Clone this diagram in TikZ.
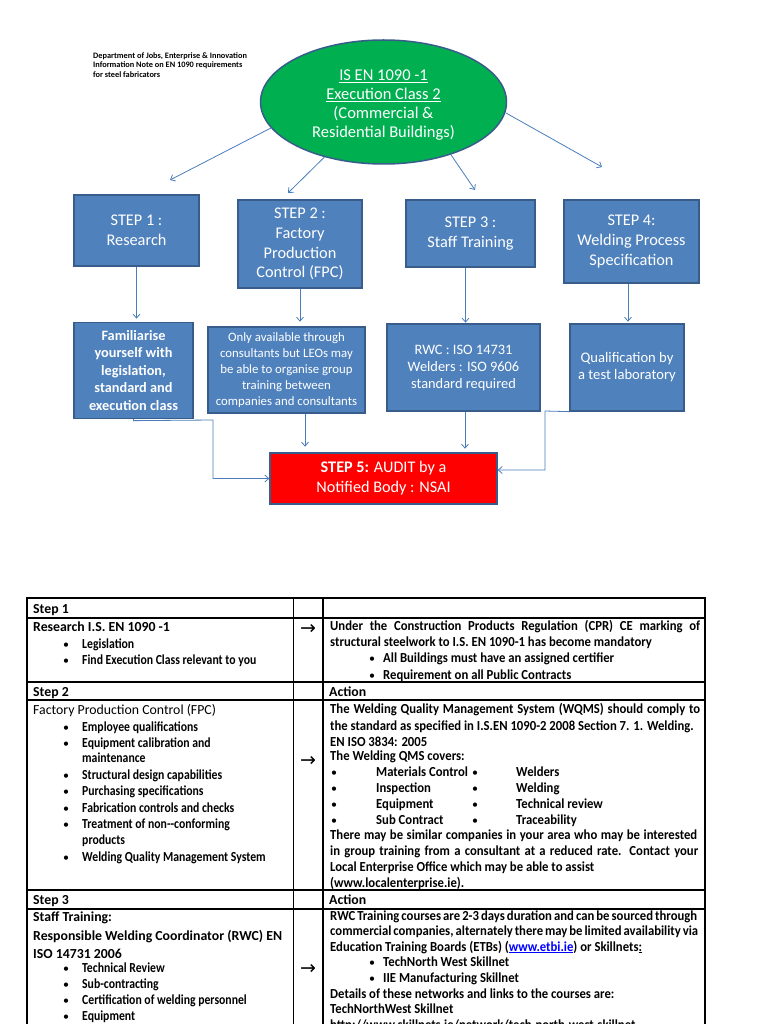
\documentclass[tikz,border=0pt]{standalone}
\usepackage{fontspec}
\setmainfont{Carlito}
\newfontfamily\condf[FakeStretch=0.85]{Carlito}
\newfontfamily\midf[FakeStretch=0.92]{Carlito}
\newfontfamily\arrowfont{DejaVu Sans}
\usetikzlibrary{arrows.meta,shapes.geometric,calc}
\definecolor{bfill}{HTML}{4F81BD}
\definecolor{bline}{HTML}{385D8A}
\definecolor{gfill}{HTML}{00B050}
\definecolor{cline}{HTML}{4A7EBB}
\definecolor{redfill}{HTML}{FF0000}
\definecolor{linkblue}{HTML}{0000FF}
\tikzset{
  stepbox/.style={draw=bline, line width=1.3pt, fill=bfill, text=white, align=center, inner sep=2pt, font=\fontsize{16.3}{19.7}\selectfont},
  infobox/.style={draw=bline, line width=1.3pt, fill=bfill, text=white, align=center, inner sep=2pt},
  conn/.style={draw=cline, line width=0.8pt, -{Straight Barb[length=4pt,width=7pt]}},
  tt/.style={anchor=base west, inner sep=0pt, font=\fontsize{13.8}{15}\selectfont},
  tc/.style={tt, font=\fontsize{13.8}{15}\condf\bfseries},
  tm/.style={tt, font=\fontsize{13.8}{15}\midf\bfseries},
  bul/.style={anchor=base west, inner sep=0pt, font=\fontsize{12}{15}\selectfont},
  tab/.style={line width=1.2pt, draw=black},
  arr/.style={anchor=base west, inner sep=0pt, font=\fontsize{19}{19}\arrowfont},
}
\begin{document}
\begin{tikzpicture}[x=1pt,y=-1pt]
\useasboundingbox[fill=white] (0,0) rectangle (768,1024);

% header note
\node[anchor=north west, align=left, inner sep=0pt, font=\fontsize{8.3}{9.8}\selectfont\bfseries] (hdr) at (93,52)
  {Department of Jobs, Enterprise \& Innovation\\Information Note on EN 1090 requirements\\for steel fabricators};

% ellipse
\node[ellipse, draw=bline, line width=1.5pt, fill=gfill, minimum width=246pt, minimum height=124pt, inner sep=0pt] (ell) at (383.5,102) {};
\node[text=white, align=center, font=\fontsize{16.5}{19}\selectfont, inner sep=0pt] (ellt) at (383.5,105.5)
  {\underline{IS EN 1090 -1}\\\underline{Execution Class 2}\\(Commercial \&\\Residential Buildings)};

% steps
\node[stepbox, minimum width=125pt, minimum height=71pt] (s1) at (136.5,230.5) {STEP 1 :\\Research};
\node[stepbox, minimum width=124pt, minimum height=88pt] (s2) at (300,244) {STEP 2 :\\Factory\\Production\\Control (FPC)};
\node[stepbox, minimum width=129pt, minimum height=67pt] (s3) at (470.5,233.5) {STEP 3 :\\Staff Training};
\node[stepbox, minimum width=135pt, minimum height=83pt] (s4) at (631.5,241.5) {STEP 4:\\Welding Process\\Specification};

% info boxes
\node[infobox, minimum width=119pt, minimum height=96pt, font=\fontsize{14.3}{17.5}\selectfont\bfseries] (b1) at (133.5,370.5)
  {Familiarise\\yourself with\\legislation,\\standard and\\execution class};
\node[infobox, minimum width=157pt, minimum height=86pt, font=\fontsize{12.8}{16.2}\selectfont] (b2) at (286.5,370)
  {Only available through\\consultants but LEOs may\\be able to organise group\\training between\\companies and consultants};
\node[infobox, minimum width=153pt, minimum height=87pt, font=\fontsize{14.4}{17}\selectfont] (b3) at (463.5,367.5)
  {RWC : ISO 14731\\Welders : ISO 9606\\standard required};
\node[infobox, minimum width=114pt, minimum height=87pt, font=\fontsize{14.6}{17}\selectfont] (b4) at (627,367.5)
  {Qualification by\\a test laboratory};

% step 5
\node[draw=bline, line width=1.3pt, fill=redfill, text=white, align=center, minimum width=227pt, minimum height=51pt,
  font=\fontsize{16.2}{20}\selectfont] (s5) at (383.5,478.5) {\textbf{STEP 5:} AUDIT by a\\Notified Body : NSAI};

% connectors from ellipse
\coordinate (e1) at (170,180);
\coordinate (e2) at (288,193);
\coordinate (e3) at (475,190);
\coordinate (e4) at (602,167);
\draw[conn] (ell.193) -- (e1);
\draw[conn] (ell.223) -- (e2);
\draw[conn] (ell.322) -- (e3);
\draw[conn] (ell.355) -- (e4);

% step to info
\draw[conn] (s1.south) -- ++(0,52);
\draw[conn] (s2.south) -- ++(0,33);
\draw[conn] ($(s3.south)+(-5,0)$) -- ++(0,55);
\draw[conn] ($(s4.south)+(-3.5,0)$) -- ++(0,38);

% info to step 5
\draw[conn] (b1.south) -- ++(0,1.5) -- (213,420) |- (s5.west);
\draw[conn] ($(b2.south)+(18.5,0)$) -- ++(0,33);
\draw[conn] ($(b3.south)+(1.5,0)$) -- ++(0,37);
\draw[conn] (b4.south west) -- (545,411) |- ([yshift=8.5pt]s5.east);

% table grid
\draw[tab] (27,1030) -- (27,598) -- (705,598) -- (705,1030);
\draw[tab] (293.5,598) -- (293.5,1030);
\draw[tab] (323,598) -- (323,1030);
\foreach \yy in {618,682,700,890,909} \draw[tab] (27,\yy) -- (705,\yy);

% Row Step 1
\node[tt] (r1a) at (33,613) {\bfseries Step 1};
\node[tt] (r2a) at (33,631) {\bfseries Research I.S. EN 1090 -1};
\node[bul] (r2b1) at (63,648) {•};
\node[tc] (r2b2) at (82,648) {Legislation};
\node[bul] (r2c1) at (63,664) {•};
\node[tc] (r2c2) at (82,664) {Find Execution Class relevant to you};
\node[arr] (ar1) at (300,634) {→};
\node[tm] (r2d) at (330,630) {\makebox[370pt][s]{Under the Construction Products Regulation (CPR) CE marking of}};
\node[tm] (r2e) at (330,646) {structural steelwork to I.S. EN 1090-1 has become mandatory};
\node[bul] (r2f1) at (369,662) {•};
\node[tm] (r2f2) at (383,662) {All Buildings must have an assigned certifier};
\node[bul] (r2g1) at (369,679) {•};
\node[tm] (r2g2) at (383,679) {Requirement on all Public Contracts};

% Row Step 2
\node[tt] (r3a) at (33,696) {\bfseries Step 2};
\node[tt] (r3b) at (329,696) {\bfseries Action};
\node[tt] (r4a) at (33,714) {Factory Production Control (FPC)};
\foreach \yy/\txt [count=\i] in {731/Employee qualifications, 747/Equipment calibration and, 779/Structural design capabilities, 795/Purchasing specifications, 812/Fabrication controls and checks, 828/Treatment of non--conforming, 861/Welding Quality Management System}
  {\node[bul] (r4bul\i) at (63,\yy) {•}; \node[tc] (r4txt\i) at (82,\yy) {\txt};}
\node[tc] (r4m) at (82,762) {maintenance};
\node[tc] (r4p) at (82,844) {products};
\node[arr] (ar2) at (300,766) {→};
\node[tm] (r4c1) at (330,713) {\makebox[370pt][s]{The Welding Quality Management System (WQMS) should comply to}};
\node[tm] (r4c2) at (330,730) {the standard as specified in I.S.EN 1090-2 2008 Section 7. 1. Welding.};
\node[tm] (r4c3) at (330,746) {EN ISO 3834: 2005};
\node[tm] (r4c4) at (330,760) {The Welding QMS covers:};
\foreach \yy/\ta/\tb [count=\i] in {776/Materials Control/Welders, 792/Inspection/Welding, 808/Equipment/Technical review, 824/Sub Contract/Traceability}
  {\node[bul] (r4q\i) at (331,\yy) {•};
   \node[tm] (r4qa\i) at (376,\yy) {\ta};
   \node[bul] (r4qb\i) at (472,\yy) {•};
   \node[tm] (r4qc\i) at (516,\yy) {\tb};}
\node[tm] (r4c5) at (330,839) {\makebox[367pt][s]{There may be similar companies in your area who may be interested}};
\node[tm] (r4c6) at (330,855) {\makebox[368pt][s]{in group training from a consultant at a reduced rate. Contact your}};
\node[tm] (r4c7) at (330,871) {Local Enterprise Office which may be able to assist};
\node[tm] (r4c8) at (330,887) {(www.localenterprise.ie).};

% Row Step 3
\node[tt] (r5a) at (33,904) {\bfseries Step 3};
\node[tt] (r5b) at (329,904) {\bfseries Action};
\node[tt] (r6a) at (33,921) {\bfseries Staff Training:};
\node[tt] (r6b) at (33,940) {\bfseries Responsible Welding Coordinator (RWC) EN};
\node[tt] (r6c) at (33,958) {\bfseries ISO 14731 2006};
\foreach \yy/\txt [count=\i] in {972/Technical Review, 988/Sub-contracting, 1004/Certification of welding personnel, 1020/Equipment}
  {\node[bul] (r6bul\i) at (63,\yy) {•}; \node[tc] (r6txt\i) at (82,\yy) {\txt};}
\node[arr] (ar3) at (300,974) {→};
\node[tm] (r6d1) at (330,920) {\makebox[367pt][s]{RWC Training courses are 2-3 days duration and can be sourced through}};
\node[tm] (r6d2) at (330,935) {\makebox[365pt][s]{commercial companies, alternately there may be limited availability via}};
\node[tm] (r6d3) at (330,951) {Education Training Boards (ETBs) (\textcolor{linkblue}{\underline{www.etbi.ie}}) or Skillnets\underline{:}};
\node[bul] (r6e1) at (369,966) {•};
\node[tm] (r6e2) at (383,966) {TechNorth West Skillnet};
\node[bul] (r6f1) at (369,982) {•};
\node[tm] (r6f2) at (383,982) {IIE Manufacturing Skillnet};
\node[tm] (r6g) at (330,998) {Details of these networks and links to the courses are:};
\node[tm] (r6h) at (330,1013) {TechNorthWest Skillnet};
\node[tm] (r6i) at (330,1029) {http://www.skillnets.ie/network/tech-north-west-skillnet};
\end{tikzpicture}
\end{document}
